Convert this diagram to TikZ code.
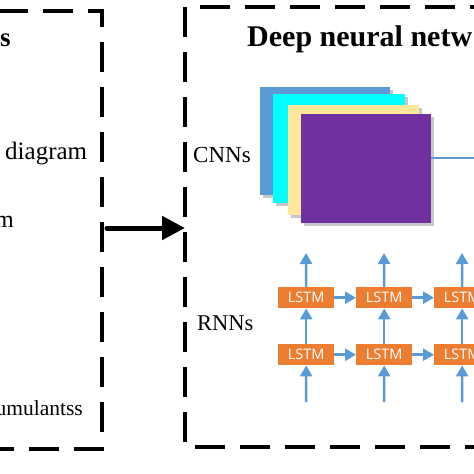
\documentclass[tikz,border=0pt]{standalone}
\usepackage{fontspec}
\setmainfont{Liberation Serif}
\newfontfamily\lstmfont{Open Sans}
\usetikzlibrary{arrows.meta,shadows}
\definecolor{lblue}{HTML}{5B9BD5}
\definecolor{lcyan}{HTML}{00FFFF}
\definecolor{lwheat}{HTML}{FFE699}
\definecolor{lpurple}{HTML}{7030A0}
\definecolor{lorange}{HTML}{ED7D31}
\tikzset{
  dashbox/.style={line width=4pt, dash pattern=on 30pt off 15pt},
  layer/.style={anchor=north west, inner sep=0pt, draw=none, drop shadow={shadow xshift=3pt, shadow yshift=-3pt, opacity=0.22, fill=black}},
  lstm/.style={anchor=north west, inner sep=0pt, fill=lorange, minimum width=56pt, minimum height=21pt, text=white, font=\lstmfont\fontsize{14.5}{14.5}\selectfont},
  flow/.style={draw=lblue, line width=2.5pt, -{Triangle[width=12pt,length=11pt]}},
  lbl/.style={inner sep=0pt, font=\fontsize{23}{23}\selectfont},
}
\begin{document}
\begin{tikzpicture}[x=1pt,y=-1pt]
\useasboundingbox (0,0) rectangle (474,474);
\clip (0,0) rectangle (474,474);
\fill[white] (0,0) rectangle (474,474);
% left dashed box
\draw[dashbox] (-2,11) -- (102,11) -- (102,449) -- (-30,449);
% right dashed box
\draw[dashbox] (185,7) -- (185,447) -- (500,447);
\draw[dashbox, dash phase=30pt] (185,7) -- (500,7);
% left texts
\node[lbl, anchor=base west, font=\bfseries\fontsize{27}{27}\selectfont] (ts) at (0,46.5) {s};
\node[lbl, anchor=base west, font=\fontsize{25}{25}\selectfont] (tdiag) at (5,159) {diagram};
\node[lbl, anchor=base west, font=\fontsize{24}{24}\selectfont] (tm) at (-5,227) {m};
\node[lbl, anchor=base east, font=\fontsize{21.5}{21.5}\selectfont] (tcum) at (83,415) {umulantss};
% main arrow
\coordinate (a0) at (107,228);
\coordinate (a1) at (185,228);
\draw[line width=5pt, line cap=round, -{Triangle[width=23pt,length=23pt]}] (a0) -- (a1);
% title
\node[lbl, anchor=base west, font=\bfseries\fontsize{30}{30}\selectfont] (title) at (247,46) {Deep neural netw};
\node[lbl, anchor=base west] (cnn) at (193,162) {CNNs};
\node[lbl, anchor=base west, font=\fontsize{22.5}{22.5}\selectfont] (rnn) at (197,330) {RNNs};
% CNN layers
\node[layer, fill=lblue, minimum width=130pt, minimum height=108pt] (l1) at (260,87) {};
\node[layer, fill=lcyan, minimum width=132pt, minimum height=109pt] (l2) at (273,94) {};
\node[layer, fill=lwheat, minimum width=131pt, minimum height=110pt] (l3) at (288,105) {};
\node[layer, fill=lpurple, minimum width=130pt, minimum height=109pt] (l4) at (301,114) {};
\coordinate (c0) at (431,158);
\coordinate (c1) at (486,158);
\draw[flow, line width=2pt] (c0) -- (c1);
% LSTM grid
\foreach \i/\x in {1/278,2/356,3/434}{
  \node[lstm] (u\i) at (\x,287) {LSTM};
  \node[lstm] (d\i) at (\x,344) {LSTM};
  \coordinate (in\i) at (\x+28,402);
  \coordinate (out\i) at (\x+28,253);
  \draw[flow] (in\i) -- (d\i.south);
  \draw[flow] (d\i.north) -- (u\i.south);
  \draw[flow] (u\i.north) -- (out\i);
}
\foreach \i/\j in {1/2,2/3}{
  \draw[flow] (u\i.east) -- (u\j.west);
  \draw[flow] (d\i.east) -- (d\j.west);
}
\end{tikzpicture}
\end{document}
